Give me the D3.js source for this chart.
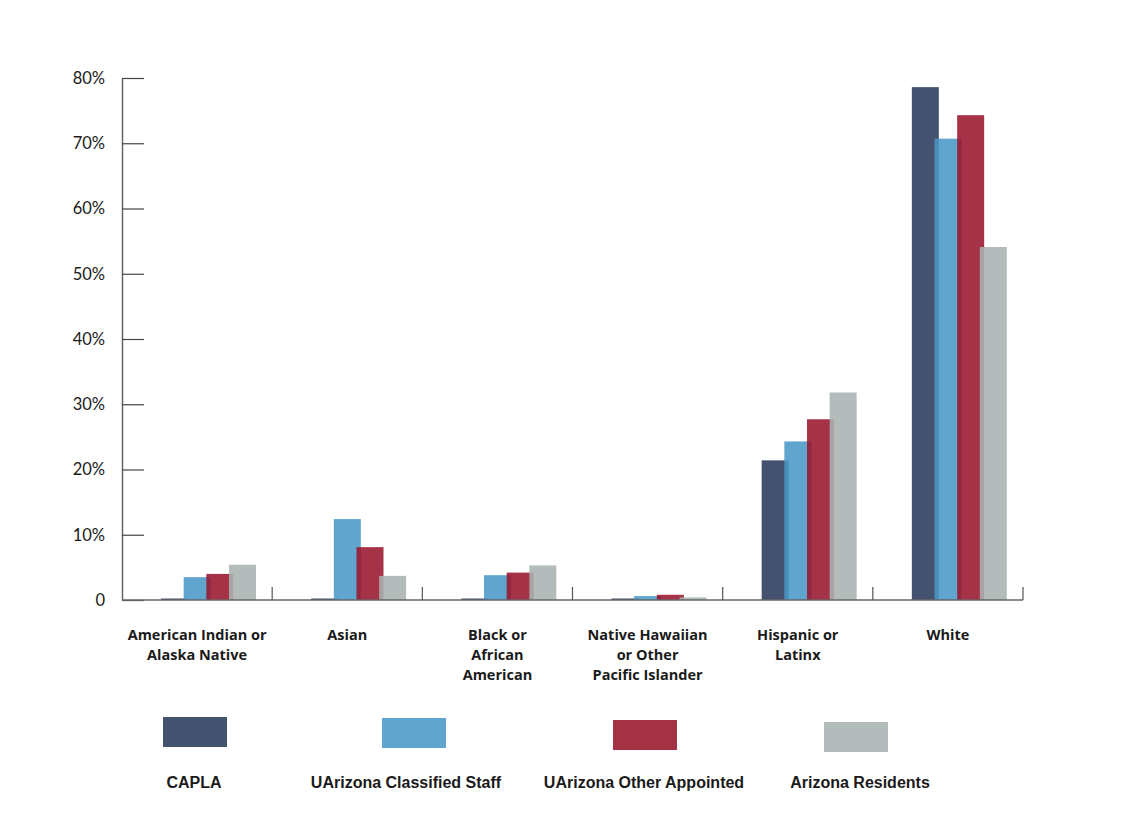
<!DOCTYPE html>
<html>
<head>
<meta charset="utf-8">
<script src="https://cdn.jsdelivr.net/npm/d3@7"></script>
<style>
  body { margin: 0; background: #fff; }
  svg text { font-family: Lato, "Open Sans", sans-serif; fill: #1a1a1a; }
</style>
</head>
<body>
<svg id="chart" width="1140" height="828"></svg>
<script>
var categories = [
  ['American Indian or', 'Alaska Native'],
  ['Asian'],
  ['Black or', 'African', 'American'],
  ['Native Hawaiian', 'or Other', 'Pacific Islander'],
  ['Hispanic or', 'Latinx'],
  ['White']
]
var seriesNames = ['CAPLA', 'UArizona Classified Staff', 'UArizona Other Appointed', 'Arizona Residents']
var colors = ['#44526f', '#5fa5cd', '#a43245', '#b3bcbb']
// same colours, pre-darkened so a translucent bar over white shows the colour above
var barColors = ['#2a3a5b', '#4999c6', '#98162c', '#a9b3b2']

var capla      = [0, 0, 0, 0, 21.4, 78.6]
var classified = [3.5, 12.4, 3.8, 0.6, 24.3, 70.7]
var appointed  = [4.0, 8.1, 4.2, 0.8, 27.7, 74.3]
var residents  = [5.4, 3.7, 5.3, 0.4, 31.8, 54.1]
var series = [capla, classified, appointed, residents]

var yTicks = [0, 10, 20, 30, 40, 50, 60, 70, 80]

var svg = d3.select('#chart')
var m = {left: 122, right: 1023, top: 78, bottom: 600}

var x = d3.scaleBand().domain(d3.range(categories.length)).range([m.left, m.right]).padding(0)
var xs = d3.scalePoint().domain(d3.range(series.length)).range([39, 107])
var barW = 27
var y = d3.scaleLinear().domain([0, 80]).range([m.bottom, m.top])

// bars
series.forEach(function(vals, si){
  svg.append('g').selectAll('rect')
    .data(vals)
    .join('rect')
    .attr('x', (d, i) => x(i) + xs(si))
    .attr('width', barW)
    .attr('y', d => d > 0 ? y(d) : m.bottom - 1.5)
    .attr('height', d => d > 0 ? m.bottom - y(d) : 1.5)
    .attr('fill', barColors[si])
    .attr('fill-opacity', 0.88)
})

// y axis
var yAxis = d3.axisLeft(y)
  .tickValues(yTicks)
  .tickSize(-22)
  .tickSizeOuter(0)
  .tickPadding(17)
  .tickFormat(d => d == 0 ? '0' : d + '%')

var yg = svg.append('g').attr('transform', 'translate(' + m.left + ',0)').call(yAxis)
yg.select('.domain').attr('stroke', '#666').attr('stroke-width', 1.5)
yg.selectAll('.tick line').attr('stroke', '#444').attr('stroke-width', 1.2)
yg.selectAll('.tick text')
  .attr('font-size', 16.5)
  .attr('font-family', 'Lato, sans-serif')
  .attr('fill', '#1a1a1a')

// x axis
svg.append('line')
  .attr('x1', m.left).attr('x2', m.right)
  .attr('y1', m.bottom).attr('y2', m.bottom)
  .attr('stroke', '#666').attr('stroke-width', 1.5)

svg.append('g').selectAll('line')
  .data(d3.range(1, categories.length + 1))
  .join('line')
  .attr('x1', i => m.left + x.bandwidth() * i)
  .attr('x2', i => m.left + x.bandwidth() * i)
  .attr('y1', m.bottom)
  .attr('y2', m.bottom - 13)
  .attr('stroke', '#555')
  .attr('stroke-width', 1.2)

// category labels
var labG = svg.append('g').selectAll('text')
  .data(categories)
  .join('text')
  .attr('x', (d, i) => x(i) + x.bandwidth() / 2)
  .attr('y', 640)
  .attr('text-anchor', 'middle')
  .attr('font-size', 14.5)
  .attr('font-weight', 700)
  .style('font-family', '"Open Sans", sans-serif')

labG.selectAll('tspan')
  .data(d => d)
  .join('tspan')
  .attr('x', function(){ return d3.select(this.parentNode).attr('x') })
  .attr('dy', (d, i) => i == 0 ? 0 : 20)
  .text(d => d)

// legend
var legX = [195, 414, 645, 856]
var legY = [717, 718, 720, 722]
var legTextX = [194, 406, 644, 860]
var lg = svg.append('g').selectAll('g')
  .data(seriesNames)
  .join('g')

lg.append('rect')
  .attr('x', (d, i) => legX[i] - 32)
  .attr('y', (d, i) => legY[i])
  .attr('width', 64)
  .attr('height', 30)
  .attr('fill', (d, i) => colors[i])

lg.append('text')
  .attr('x', (d, i) => legTextX[i])
  .attr('y', 788)
  .attr('text-anchor', 'middle')
  .attr('font-size', 16)
  .attr('font-weight', 700)
  .style('font-family', '"Liberation Sans Narrow", "Arial Narrow", sans-serif')
  .text(d => d)
</script>
</body>
</html>
